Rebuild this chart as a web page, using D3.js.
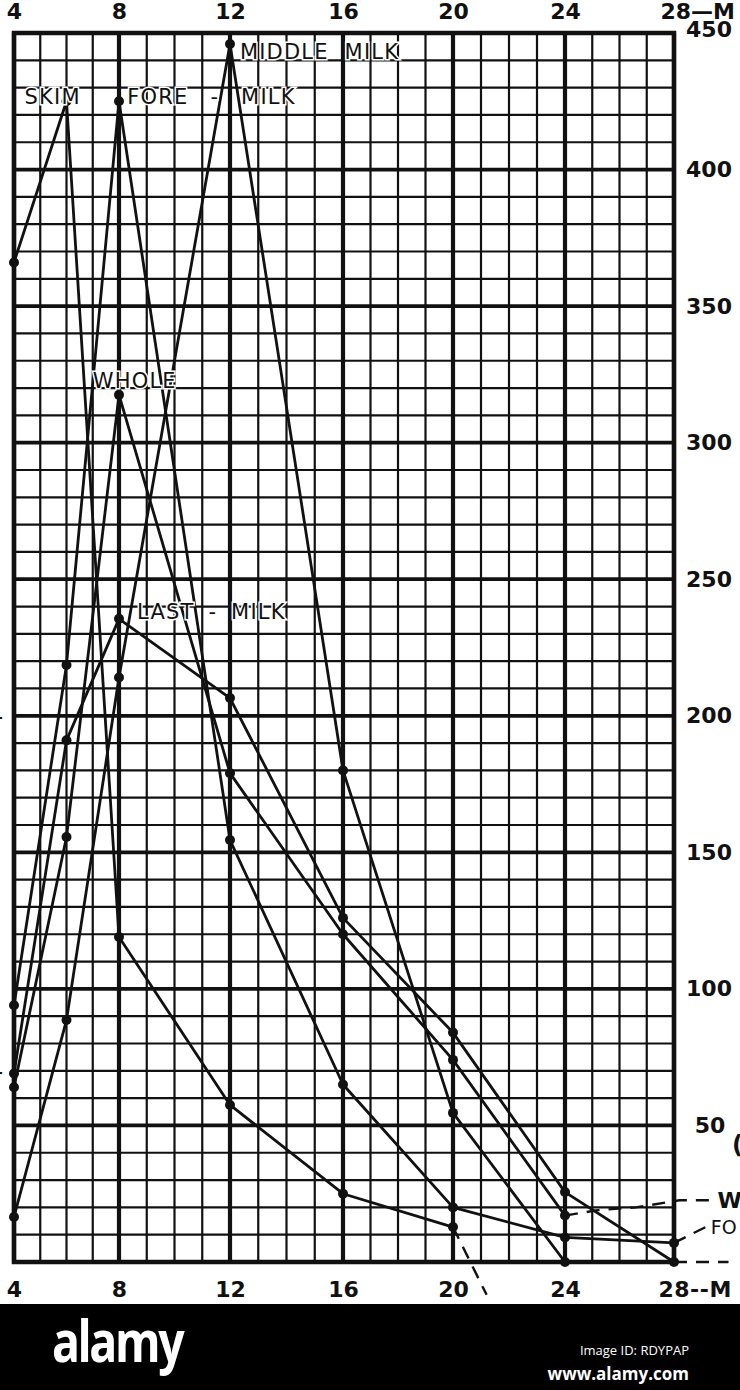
<!DOCTYPE html>
<html><head><meta charset="utf-8">
<script src="https://cdn.jsdelivr.net/npm/d3@7"></script>
<style>
html,body{margin:0;padding:0;background:#fff;}
svg{display:block;}
</style></head>
<body>
<svg id="chart" width="740" height="1390"></svg>
<script>
// ---- data ----
const xTickValues = [4, 8, 12, 16, 20, 24, 28];
const xTickLabels = ["4", "8", "12", "16", "20", "24", "28"];
const yTickValues = [50, 100, 150, 200, 250, 300, 350, 400, 450];
const yTickLabels = ["50", "100", "150", "200", "250", "300", "350", "400", "450"];

const skimX   = [4, 6, 8, 12, 16, 20];
const skimY   = [366, 425, 119, 57.5, 25, 12.8];
const foreX   = [4, 6, 8, 12, 16, 20, 24, 28];
const foreY   = [94, 218.6, 425, 154.5, 65, 20, 9, 7];
const middleX = [4, 6, 8, 12, 16, 20, 24];
const middleY = [16.5, 88.6, 214, 446, 180, 54.6, 0];
const wholeX  = [4, 6, 8, 12, 16, 20, 24];
const wholeY  = [64, 155.6, 317.5, 179, 120, 74, 17];
const lastX   = [4, 6, 8, 12, 16, 20, 24, 28];
const lastY   = [69, 191, 235.5, 206.5, 126, 84, 25.6, 0];

const seriesNames = ["SKIM", "FORE - MILK", "MIDDLE MILK", "WHOLE", "LAST - MILK"];

// dashed leader lines (data units)
const skimTailX = [20, 21.2];
const skimTailY = [12.8, -12];
const wholeLeadX = [24, 25.2, 26.6, 28.2, 29.6];
const wholeLeadY = [17, 19, 20, 22.6, 22.6];
const foreLeadX = [28, 29.2];
const foreLeadY = [7, 13];
const baseLeadX = [28, 30];
const baseLeadY = [0, 0];

// ---- layout ----
const svg = d3.select("#chart");
const x = d3.scaleLinear().domain(xTickValues).range([14, 119, 230, 343, 453, 565, 674]);
const y = d3.scaleLinear().domain([0, 450]).range([1262, 33]);
const ink = "#111";

const g = svg.append("g");

// grid
const minorX = d3.range(4, 29, 1);
const minorY = d3.range(0, 451, 10);
g.append("g").selectAll("line").data(minorX).join("line")
  .attr("x1", d => x(d)).attr("x2", d => x(d))
  .attr("y1", y(450)).attr("y2", y(0))
  .attr("stroke", ink).attr("stroke-width", d => d % 4 === 0 ? 4.2 : 2.2);
g.append("g").selectAll("line").data(minorY).join("line")
  .attr("y1", d => y(d)).attr("y2", d => y(d))
  .attr("x1", x(4)).attr("x2", x(28))
  .attr("stroke", ink).attr("stroke-width", d => d % 50 === 0 ? 3.8 : 2.2);
g.append("rect").attr("x", x(4)).attr("y", y(450))
  .attr("width", x(28) - x(4)).attr("height", y(0) - y(450))
  .attr("fill", "none").attr("stroke", ink).attr("stroke-width", 4.5);

// axis labels via d3 axes (top, bottom, right)
const numFont = "'DejaVu Sans', sans-serif";
function styleAxis(sel) {
  sel.select(".domain").remove();
  sel.selectAll(".tick line").remove();
  sel.selectAll(".tick text").attr("font-family", numFont).attr("font-weight", "bold")
    .attr("font-size", 22).attr("fill", ink);
}
const topAxis = d3.axisTop(x).tickValues(xTickValues).tickFormat((d, i) => xTickLabels[i]).tickSize(0).tickPadding(0);
const ta = svg.append("g").attr("transform", "translate(0,19)").call(topAxis).call(styleAxis);
const botAxis = d3.axisBottom(x).tickValues(xTickValues).tickFormat((d, i) => xTickLabels[i]).tickSize(0).tickPadding(0);
const ba = svg.append("g").attr("transform", "translate(0,1281)").call(botAxis).call(styleAxis);
const rightAxis = d3.axisRight(y).tickValues(yTickValues).tickFormat((d, i) => yTickLabels[i]).tickSize(0).tickPadding(0);
const ra = svg.append("g").attr("transform", "translate(709,0)").call(rightAxis).call(styleAxis);
ra.selectAll(".tick text").attr("text-anchor", "middle").attr("x", 0);
ra.selectAll(".tick").filter(d => d === 450).select("text").attr("dy", "0.32em").attr("y", -4);
ra.selectAll(".tick").filter(d => d === 50).select("text").attr("x", 1);
ta.selectAll(".tick").filter(d => d === 28).select("text")
  .attr("text-anchor", "start").attr("dx", -14).text("28\u2014M");
ba.selectAll(".tick").filter(d => d === 28).select("text")
  .attr("text-anchor", "start").attr("dx", -16).attr("letter-spacing", 0.5).text("28--M");

// lines
const line = d3.line().x(d => x(d[0])).y(d => y(d[1]));
const zip = (a, b) => a.map((v, i) => [v, b[i]]);
const series = [zip(skimX, skimY), zip(foreX, foreY), zip(middleX, middleY), zip(wholeX, wholeY), zip(lastX, lastY)];
const lg = svg.append("g");
lg.selectAll("path.s").data(series).join("path").attr("class", "s")
  .attr("d", line).attr("fill", "none").attr("stroke", ink).attr("stroke-width", 2.8)
  .attr("stroke-linejoin", "round");
lg.selectAll("g.m").data(series).join("g").attr("class", "m")
  .selectAll("circle").data(d => d).join("circle")
  .attr("cx", d => x(d[0])).attr("cy", d => y(d[1])).attr("r", 5).attr("fill", ink);

// dashed leaders
const leaders = [zip(skimTailX, skimTailY), zip(wholeLeadX, wholeLeadY), zip(foreLeadX, foreLeadY), zip(baseLeadX, baseLeadY)];
svg.append("g").selectAll("path").data(leaders).join("path")
  .attr("d", line).attr("fill", "none").attr("stroke", ink).attr("stroke-width", 2.4)
  .attr("stroke-dasharray", "13,9");

// series labels
const labFont = "'DejaVu Sans', sans-serif";
const labels = [
  {t: seriesNames[0], xv: 4.4, yv: 424, ws: 0},
  {t: seriesNames[1], xv: 8.3, yv: 424, ws: 14},
  {t: seriesNames[2], xv: 12.35, yv: 440.5, ws: 8},
  {t: seriesNames[3], xv: 7.0, yv: 320, ws: 0},
  {t: seriesNames[4], xv: 8.65, yv: 235.5, ws: 6}
];
svg.append("g").selectAll("text").data(labels).join("text")
  .attr("x", d => x(d.xv)).attr("y", d => y(d.yv))
  .attr("font-family", labFont).attr("font-size", 21).attr("letter-spacing", 1.2)
  .attr("word-spacing", d => d.ws)
  .attr("fill", ink).attr("stroke", "#fff").attr("stroke-width", 3).attr("paint-order", "stroke")
  .text(d => d.t);

// right edge fragments
const frag = svg.append("g").attr("font-family", numFont).attr("font-weight", "bold").attr("fill", ink);
frag.append("text").attr("x", x(29.6)).attr("y", y(22.6) + 8).attr("font-size", 22).text("W");
frag.append("text").attr("x", x(29.35)).attr("y", y(13) + 8).attr("font-size", 19).attr("font-weight", "normal").text("FO");
frag.append("text").attr("x", 732).attr("y", y(50) + 28).attr("font-size", 24).text("(");
frag.append("text").attr("x", -3).attr("y", y(200) + 6).attr("font-size", 14).text("-");
frag.append("text").attr("x", -3).attr("y", y(70) + 6).attr("font-size", 14).text("-");

// watermark band
svg.append("rect").attr("x", 0).attr("y", 1304).attr("width", 740).attr("height", 86).attr("fill", "#000");
svg.append("text").attr("x", 52).attr("y", 1362).attr("font-family", "'Open Sans', sans-serif")
  .attr("font-weight", "bold").attr("font-size", 58).attr("fill", "#fff").attr("letter-spacing", -3)
  .attr("transform", "translate(52,0) scale(0.8,1) translate(-52,0)")
  .text("alamy");
svg.append("text").attr("x", 689).attr("y", 1355).attr("text-anchor", "end")
  .attr("font-family", "'Open Sans', sans-serif").attr("font-size", 13).attr("fill", "#fff").text("Image ID: RDYPAP");
svg.append("text").attr("x", 689).attr("y", 1380).attr("text-anchor", "end")
  .attr("font-family", "'Open Sans', sans-serif").attr("font-weight", "bold").attr("font-size", 17).attr("fill", "#fff").text("www.alamy.com");
</script>
</body></html>
